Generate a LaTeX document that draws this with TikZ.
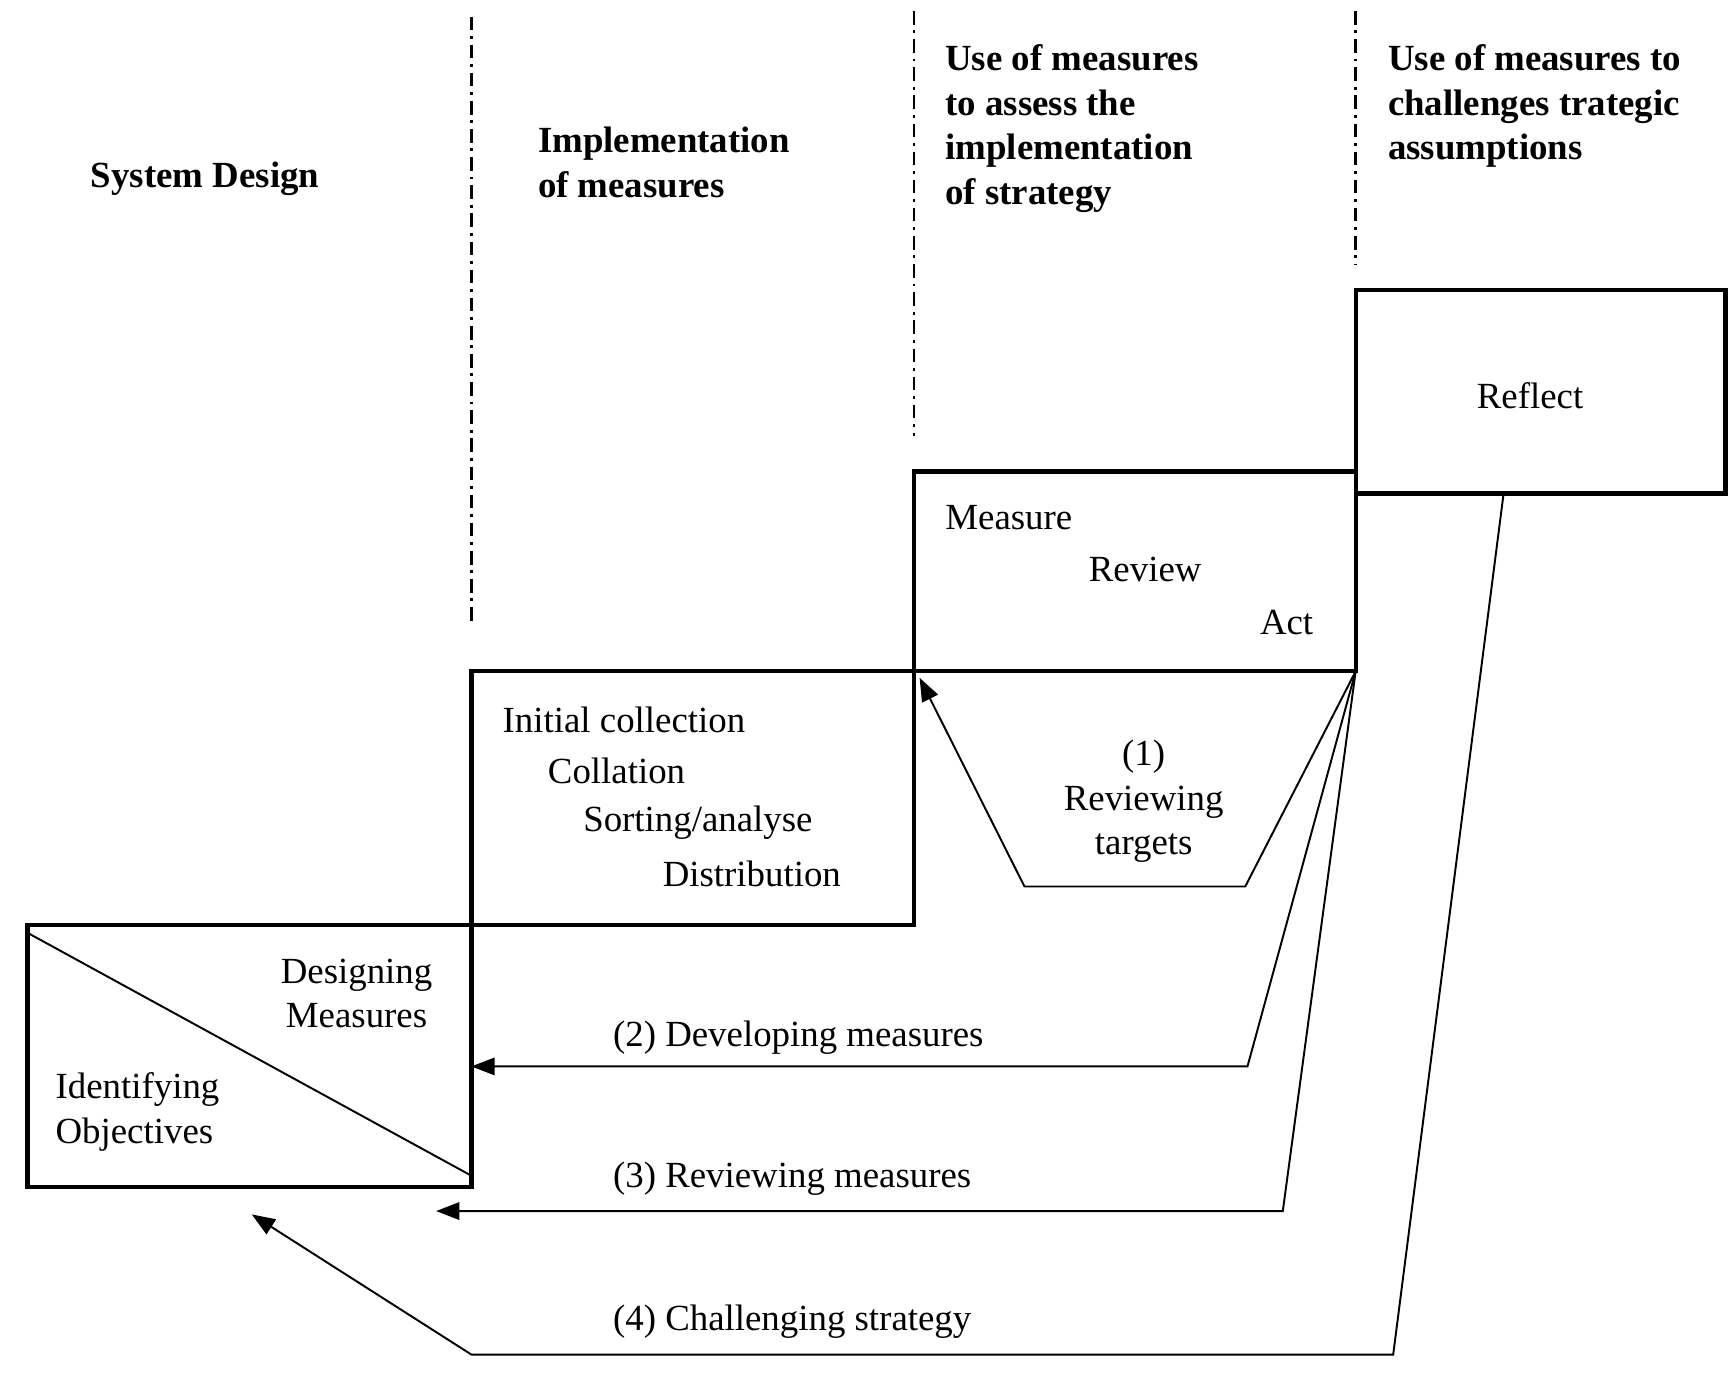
\documentclass[tikz,border=0pt]{standalone}
\usepackage{fontspec}
\setmainfont{Liberation Serif}
\usetikzlibrary{arrows.meta}
\begin{document}
\begin{tikzpicture}[x=0.02cm,y=-0.02cm,
 box/.style={line width=2.2pt},
 sep/.style={line width=1.3pt,dash pattern=on 7pt off 3pt on 1.5pt off 3pt},
 conn/.style={line width=1pt,-{Triangle[length=12pt,width=9pt]}},
 lbl/.style={font=\fontsize{19}{23}\selectfont,inner sep=0pt},
 hdr/.style={font=\fontsize{19}{23}\selectfont\bfseries,align=left,anchor=north west,inner sep=0pt}]
\useasboundingbox (0,0) rectangle (1568,1244);
\draw[sep] (427,15) -- (427,565);
\draw[sep] (828,10) -- (828,395);
\draw[sep] (1228,10) -- (1228,240);
\node[hdr,anchor=west] (h1) at (82,162) {System Design};
\node[hdr] (h2) at (487,115) {Implementation\\of measures};
\node[hdr] (h3) at (856,40) {Use of measures\\to assess the\\implementation\\of strategy};
\node[hdr] (h4) at (1257,40) {Use of measures to\\challenges trategic\\assumptions};
\draw[box] (25,838) rectangle (427,1075);
\draw[line width=1pt] (25,845) -- (427,1065);
\draw[box] (427,608) rectangle (828,838);
\draw[box] (828,427) rectangle (1228,608);
\draw[box] (1228,263) rectangle (1563,447);
\coordinate (b1) at (427,966);
\coordinate (b2) at (395,1097);
\coordinate (b3) at (228,1100);
\coordinate (c3) at (1228,608);
\coordinate (r) at (1362,447);
\node[lbl,align=center] (dm) at (323,900) {Designing\\Measures};
\node[lbl,align=left,anchor=west] (io) at (50,1007) {Identifying\\Objectives};
\node[lbl,anchor=west] (n1) at (455,652) {Initial collection};
\node[lbl,anchor=west] (n2) at (496,698) {Collation};
\node[lbl,anchor=west] (n3) at (528,745) {Sorting/analyse};
\node[lbl,anchor=west] (n4) at (600,792) {Distribution};
\node[lbl,anchor=west] (m1) at (856,469) {Measure};
\node[lbl,anchor=west] (m2) at (986,516) {Review};
\node[lbl,anchor=west] (m3) at (1141,564) {Act};
\node[lbl] (rf) at (1386,358) {Reflect};
\node[lbl,align=center] (rt) at (1036,726) {(1)\\Reviewing\\targets};
\draw[conn] (c3) -- (1128,803) -- (928,803) -- (833,614);
\draw[conn] (c3) -- (1130,966) -- (b1);
\draw[conn] (c3) -- (1162,1097) -- (b2);
\draw[conn] (r) -- (1262,1227) -- (427,1227) -- (b3);
\node[lbl,anchor=west] (l2) at (555,940) {(2) Developing measures};
\node[lbl,anchor=west] (l3) at (555,1068) {(3) Reviewing measures};
\node[lbl,anchor=west] (l4) at (555,1197) {(4) Challenging strategy};
\end{tikzpicture}
\end{document}
